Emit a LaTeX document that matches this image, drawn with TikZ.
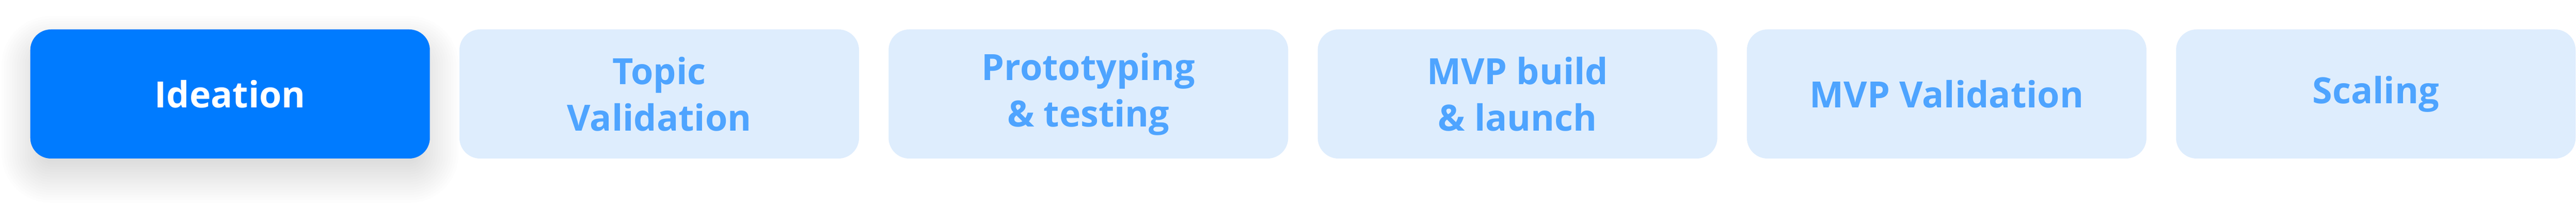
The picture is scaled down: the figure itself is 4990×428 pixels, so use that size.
\documentclass[tikz,border=0pt]{standalone}
\usepackage{fontspec}
\setmainfont{Open Sans}[BoldFont={* Bold}]
\pgfdeclarelayer{background}
\pgfsetlayers{background,main}
\definecolor{activeblue}{RGB}{0,123,255}
\definecolor{lightfill}{RGB}{222,237,253}
\definecolor{lighttext}{RGB}{78,164,255}
\tikzset{
  stagebox/.style={rectangle, rounded corners=10pt, minimum width=193.5pt, minimum height=62.5pt,
    inner sep=0pt, align=center, font=\fontsize{17.5pt}{22.5pt}\selectfont\bfseries},
  activestage/.style={stagebox, fill=activeblue, text=white},
  idlestage/.style={stagebox, fill=lightfill, text=lighttext},
  shadowlayer/.style={fill=black, fill opacity=0.0068, draw=none},
}
\begin{document}
\begin{tikzpicture}[x=0.25pt,y=0.25pt]
\useasboundingbox (0,0) rectangle (4990,428);
\node[activestage] (s1) at (445.7,246) {Ideation};
\node[idlestage] (s2) at (1277.0,246) {Topic\\Validation};
\node[idlestage] (s3) at (2108.3,246) {Prototyping\\\& testing};
\node[idlestage] (s4) at (2939.6,246) {MVP build\\\& launch};
\node[idlestage] (s5) at (3770.9,246) {MVP Validation};
\node[idlestage] (s6) at (4602.2,246) {Scaling};
\begin{pgfonlayer}{background}
  \fill[white] (0,0) rectangle (4990,428);
  \foreach \e in {-25,-20,...,55}{
    \pgfmathsetmacro{\rc}{max(4,40+\e)*0.25}
    \fill[shadowlayer, rounded corners=\rc pt]
      ([xshift=-\e*0.25pt, yshift=-30*0.25pt-\e*0.25pt]s1.south west)
      rectangle ([xshift=\e*0.25pt, yshift=-30*0.25pt+\e*0.25pt]s1.north east);
  }
\end{pgfonlayer}
\end{tikzpicture}
\end{document}
